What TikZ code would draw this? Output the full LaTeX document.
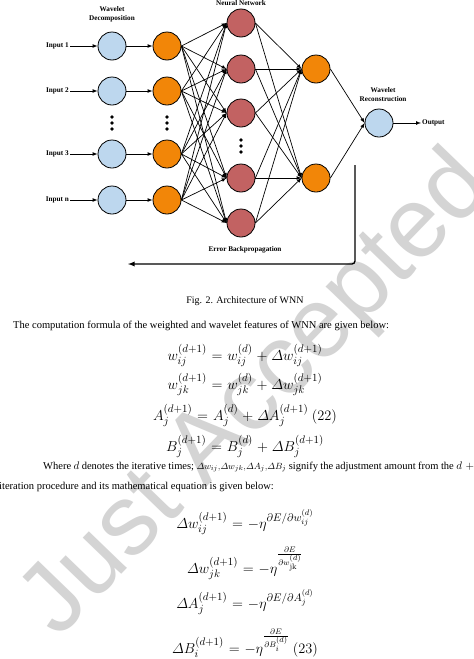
\documentclass[tikz,border=0pt]{standalone}
\usepackage{amsmath}
\usepackage[no-math]{fontspec}
\setmainfont{Liberation Serif}
\newfontfamily\markfont{Liberation Sans}
\usetikzlibrary{arrows}
\DeclareMathSizes{14}{14}{10.5}{8}
\thickmuskip=6mu plus 2mu
\medmuskip=5mu plus 2mu

\begin{document}
\begin{tikzpicture}[x=1pt,y=-1pt,>=latex,
  outline/.style={circle,draw=black,line width=0.8pt,fill=#1,minimum size=28pt,inner sep=0pt},
  tag/.style={font=\fontsize{7.2}{9}\selectfont\bfseries,align=center,inner sep=1pt},
  conn/.style={->,line width=0.7pt},
  dot/.style={circle,fill=black,inner sep=0pt,minimum size=3.6pt},
  body/.style={anchor=base west,inner sep=0pt,font=\fontsize{10.5}{12}\selectfont},
  eqn/.style={anchor=base,inner sep=0pt,font=\fontsize{14}{17}\selectfont}]
  \definecolor{wave}{RGB}{189,215,238}
  \definecolor{act}{RGB}{242,134,8}
  \definecolor{hid}{RGB}{194,98,98}
  \path[use as bounding box,fill=white] (0,0) rectangle (474,659);
  % watermark
  \node[rotate=46,text=black!17,font=\markfont\fontsize{100}{100}\selectfont] (mark) at (258,396) {Just Accepted};
  % headers
  \node[tag] (hdec) at (112,14.5) {Wavelet\\Decomposition};
  \node[tag] (hnn) at (241,3) {Neural Network};
  \node[tag] (hrec) at (383,95) {Wavelet\\Reconstruction};
  \node[tag] (hbp) at (245,250) {Error Backpropagation};
  % input rows
  \node[tag,anchor=east] (tag1) at (70,46) {Input 1};
  \node[tag,anchor=east] (tag2) at (70,91) {Input 2};
  \node[tag,anchor=east] (tag3) at (70,154) {Input 3};
  \node[tag,anchor=east] (tag4) at (70,200) {Input n};
  \node[outline=wave] (dec1) at (112,46) {};
  \node[outline=wave] (dec2) at (112,91) {};
  \node[outline=wave] (dec3) at (112,154) {};
  \node[outline=wave] (dec4) at (112,200) {};
  \node[outline=act] (act1) at (167,46) {};
  \node[outline=act] (act2) at (167,91) {};
  \node[outline=act] (act3) at (167,154) {};
  \node[outline=act] (act4) at (167,200) {};
  % hidden layer
  \node[outline=hid] (hid1) at (241,23) {};
  \node[outline=hid] (hid2) at (241,69) {};
  \node[outline=hid] (hid3) at (241,113) {};
  \node[outline=hid] (hid4) at (241,178) {};
  \node[outline=hid] (hid5) at (241,223) {};
  \node[outline=act] (out1) at (316,69) {};
  \node[outline=act] (out2) at (316,178) {};
  \node[outline=wave] (rec) at (379,123) {};
  \node[tag,anchor=west] (outlbl) at (421,123) {Output};
  % dots
  \foreach \c/\y in {112/117,112/123,112/129,167/117,167/123,167/129,241/140,241/146,241/152}
    \node[dot] at (\c,\y) {};
  % connections
  \foreach \i in {1,...,4} {
    \draw[conn] (tag\i) -- (dec\i);
    \draw[conn] (dec\i) -- (act\i);
    \foreach \j in {1,...,5}
      \draw[conn] (act\i.east) -- (hid\j.west);
  }
  \foreach \j in {1,...,5}
    \foreach \k in {1,2}
      \draw[conn] (hid\j.east) -- (out\k.west);
  \draw[conn] (out1.east) -- (rec.west);
  \draw[conn] (out2.east) -- (rec.west);
  \draw[conn] (rec) -- (outlbl);
  \coordinate (bptop) at (355,165);
  \coordinate (bpend) at (128,264);
  \draw[->,line width=1.3pt,rounded corners=3pt] (bptop) |- (bpend);
  % text below
  \node[anchor=base,inner sep=0pt,font=\fontsize{10}{12}\selectfont] (cap) at (245,303) {Fig. 2. Architecture of WNN};
  \node[body] (par1) at (13,328) {The computation formula of the weighted and wavelet features of WNN are given below:};
  \node[eqn] (eq1) at (245,360) {$w_{ij}^{(d+1)} = w_{ij}^{(d)} + \varDelta w_{ij}^{(d+1)}$};
  \node[eqn] (eq2) at (245,389) {$w_{jk}^{(d+1)} = w_{jk}^{(d)} + \varDelta w_{jk}^{(d+1)}$};
  \node[eqn] (eq3) at (245,420) {$A_j^{(d+1)} = A_j^{(d)} + \varDelta A_j^{(d+1)}\ (22)$};
  \node[eqn] (eq4) at (245,451) {$B_j^{(d+1)} = B_j^{(d)} + \varDelta B_j^{(d+1)}$};
  \node[body] (par2) at (43,469) {\hbox to 431pt{Where $d$ denotes the iterative times; {\fontsize{9.5}{11}\selectfont$\varDelta w_{ij}{,}\varDelta w_{jk}{,}\varDelta A_j{,}\varDelta B_j$} signify the adjustment amount from the $d\;+$}};
  \node[body] (par3) at (-1,489) {iteration procedure and its mathematical equation is given below:};
  \node[eqn] (eq5) at (245,528) {$\varDelta w_{ij}^{(d+1)} = -\eta^{\partial E/\partial w_{ij}^{(d)}}$};
  \node[eqn] (eq6) at (245,573) {$\varDelta w_{jk}^{(d+1)} = -\eta^{\frac{\partial E}{\partial w_{\mathrm{jk}}^{(d)}}}$};
  \node[eqn] (eq7) at (245,608) {$\varDelta A_j^{(d+1)} = -\eta^{\partial E/\partial A_j^{(d)}}$};
  \node[eqn] (eq8) at (245,653) {$\varDelta B_i^{(d+1)} = -\eta^{\frac{\partial E}{\partial B_i^{(d)}}}\ (23)$};
\end{tikzpicture}
\end{document}
